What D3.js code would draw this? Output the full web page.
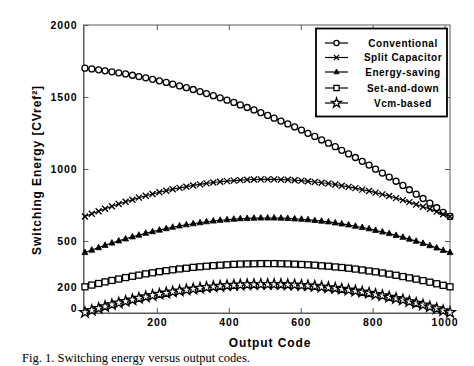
<!DOCTYPE html>
<html><head><meta charset="utf-8">
<script src="https://cdn.jsdelivr.net/npm/d3@7"></script>
<style>body{margin:0;background:#fff}svg{display:block}</style>
</head><body><svg id="c" width="474" height="366"></svg>
<script>
const codes = [0,19,38,56,75,94,113,132,150,169,188,207,226,244,263,282,301,320,338,357,376,395,414,432,451,470,489,508,526,545,564,583,602,620,639,658,677,696,714,733,752,771,790,808,827,846,865,884,902,921,940,959,978,996,1015];
const conventional = [1700,1695,1689,1682,1675,1668,1660,1651,1642,1633,1623,1612,1601,1589,1577,1565,1552,1538,1524,1509,1494,1478,1462,1445,1427,1410,1391,1372,1353,1333,1313,1292,1270,1248,1226,1202,1179,1155,1130,1105,1080,1053,1027,999,972,944,915,886,856,825,795,763,731,699,671];
const splitCapacitor = [670,689,707,724,741,757,772,787,801,814,826,838,849,859,869,877,886,893,900,906,911,916,919,923,925,927,928,928,928,926,925,922,919,915,910,905,899,892,884,876,867,857,847,836,824,812,798,784,770,754,738,722,704,686,670];
const energySaving = [420,437,454,470,486,501,515,529,541,554,565,576,586,596,605,613,620,627,634,639,644,648,652,655,657,659,660,660,660,659,657,654,651,648,643,638,633,626,619,612,603,594,585,574,563,552,539,526,513,499,484,468,452,435,420];
const setAndDown = [182,194,205,216,226,236,246,255,263,272,279,287,294,300,306,311,317,321,325,329,332,335,338,340,341,342,343,343,343,342,341,339,337,335,332,328,325,320,316,311,305,299,292,286,278,270,262,253,244,235,225,214,203,192,182];
const vcmBased = [4,18,32,45,58,70,81,92,103,113,122,131,139,147,154,161,167,173,178,182,186,190,193,195,197,198,199,199,199,198,196,195,192,189,186,181,177,172,166,160,153,146,138,129,121,111,101,91,79,68,56,43,30,16,4];
const seriesNames = ["Conventional","Split Capacitor","Energy-saving","Set-and-down","Vcm-based"];
const seriesMarkers = ["circle","cross","triangle","square","star"];
const xTicks = [200,400,600,800,1000];
const yTicks = [0,200,500,1000,1500,2000];
const xTitle = "Output Code";
const yTitle = "Switching Energy [CVref²]";
const caption = "Fig. 1. Switching energy versus output codes.";

const series = [conventional, splitCapacitor, energySaving, setAndDown, vcmBased];
const svg = d3.select("#c");
const L = 83.5, R = 450, T = 25, B = 313;
const x = d3.scaleLinear().domain([-4, 1015]).range([L, R]);
const y = d3.scaleLinear().domain([0, 2000]).range([B, T]);
const axisColor = "#5a5a5a";
const tickFont = "bold 10.5px 'Liberation Sans', Arial, sans-serif";

function marker(g, type, cx, cy, s) {
  if (type === "circle") {
    g.append("circle").attr("cx", cx).attr("cy", cy).attr("r", s)
      .attr("fill", "#fff").attr("stroke", "#000").attr("stroke-width", 1.3);
  } else if (type === "cross") {
    g.append("path").attr("d", `M${cx-s},${cy-s}L${cx+s},${cy+s}M${cx-s},${cy+s}L${cx+s},${cy-s}`)
      .attr("stroke", "#000").attr("stroke-width", 1.3).attr("fill", "none");
  } else if (type === "triangle") {
    g.append("path").attr("d", `M${cx},${cy-s*1.15}L${cx+s},${cy+s*0.7}L${cx-s},${cy+s*0.7}Z`)
      .attr("fill", "#000").attr("stroke", "#000").attr("stroke-width", 0.8);
  } else if (type === "square") {
    g.append("rect").attr("x", cx-s).attr("y", cy-s).attr("width", 2*s).attr("height", 2*s)
      .attr("fill", "#fff").attr("stroke", "#000").attr("stroke-width", 1.3);
  } else if (type === "star") {
    g.append("path").attr("d", d3.symbol(d3.symbolStar, s*s*3.2)())
      .attr("transform", `translate(${cx},${cy})`)
      .attr("fill", "#fff").attr("stroke", "#000").attr("stroke-width", 1.3);
  }
}

// frame
svg.append("rect").attr("x", L).attr("y", T).attr("width", R-L).attr("height", B-T)
  .attr("fill", "none").attr("stroke", axisColor).attr("stroke-width", 1);

// x axis
const xa = svg.append("g").attr("transform", `translate(0,${B})`)
  .call(d3.axisBottom(x).tickValues(xTicks).tickSizeInner(-5).tickSizeOuter(0).tickPadding(6).tickFormat(d3.format("d")));
xa.select(".domain").attr("stroke", axisColor);
xa.selectAll(".tick line").attr("stroke", axisColor);
xa.selectAll("text").style("font", tickFont).style("letter-spacing", "0.9px").attr("fill", "#000");
svg.append("g").attr("transform", `translate(0,${T})`)
  .call(d3.axisTop(x).tickValues(xTicks).tickSizeInner(-5).tickSizeOuter(0).tickFormat(""))
  .call(g => { g.select(".domain").remove(); g.selectAll("line").attr("stroke", axisColor); });

// y axis
const labelNudge = {0: -5, 200: 3};
const ya = svg.append("g").attr("transform", `translate(${L},0)`)
  .call(d3.axisLeft(y).tickValues(yTicks).tickSizeInner(-5).tickSizeOuter(0).tickPadding(6).tickFormat(d3.format("d")));
ya.select(".domain").attr("stroke", axisColor);
ya.selectAll(".tick line").attr("stroke", axisColor);
ya.selectAll("text").style("font", tickFont).style("letter-spacing", "0.9px").attr("fill", "#000")
  .attr("y", d => labelNudge[d] || 0);
svg.append("g").attr("transform", `translate(${R},0)`)
  .call(d3.axisRight(y).tickValues(yTicks.filter(v => v >= 500 && v < 2000)).tickSizeInner(-5).tickSizeOuter(0).tickFormat(""))
  .call(g => { g.select(".domain").remove(); g.selectAll("line").attr("stroke", axisColor); });

// series
const line = d3.line().x((d, i) => x(codes[i])).y(d => y(d));
series.forEach((vals, k) => {
  const g = svg.append("g");
  g.append("path").attr("d", line(vals)).attr("fill", "none").attr("stroke", "#000").attr("stroke-width", 1.1);
  vals.forEach((v, i) => marker(g, seriesMarkers[k], x(codes[i]), y(v), seriesMarkers[k] === "star" ? 3.3 : 3));
});

// legend
const lg = svg.append("g");
lg.append("rect").attr("x", 316).attr("y", 28.5).attr("width", 131).attr("height", 88)
  .attr("fill", "#fff").attr("stroke", "#000").attr("stroke-width", 1.8);
const legY = [43, 57.5, 72, 88, 103];
seriesNames.forEach((name, k) => {
  const yy = legY[k];
  lg.append("line").attr("x1", 325).attr("x2", 348).attr("y1", yy).attr("y2", yy)
    .attr("stroke", "#000").attr("stroke-width", 1.2);
  marker(lg, seriesMarkers[k], 336.5, yy, seriesMarkers[k] === "star" ? 3 : 2.6);
  lg.append("text").attr("x", 403).attr("y", yy).attr("dy", "0.36em").attr("text-anchor", "middle")
    .style("font", "bold 10px 'Liberation Sans', Arial, sans-serif").style("letter-spacing", "0.5px")
    .text(name);
});

// titles
svg.append("text").attr("x", 270).attr("y", 347).attr("text-anchor", "middle")
  .style("font", "bold 12px 'Liberation Sans', Arial, sans-serif").style("letter-spacing", "0.9px").text(xTitle);
svg.append("text").attr("transform", "translate(41,170) rotate(-90)").attr("text-anchor", "middle")
  .style("font", "bold 12px 'Liberation Sans', Arial, sans-serif").style("letter-spacing", "0.9px").text(yTitle);
svg.append("text").attr("x", 22).attr("y", 362)
  .style("font", "12.5px 'Liberation Serif', 'Times New Roman', serif").text(caption);
</script></body></html>
